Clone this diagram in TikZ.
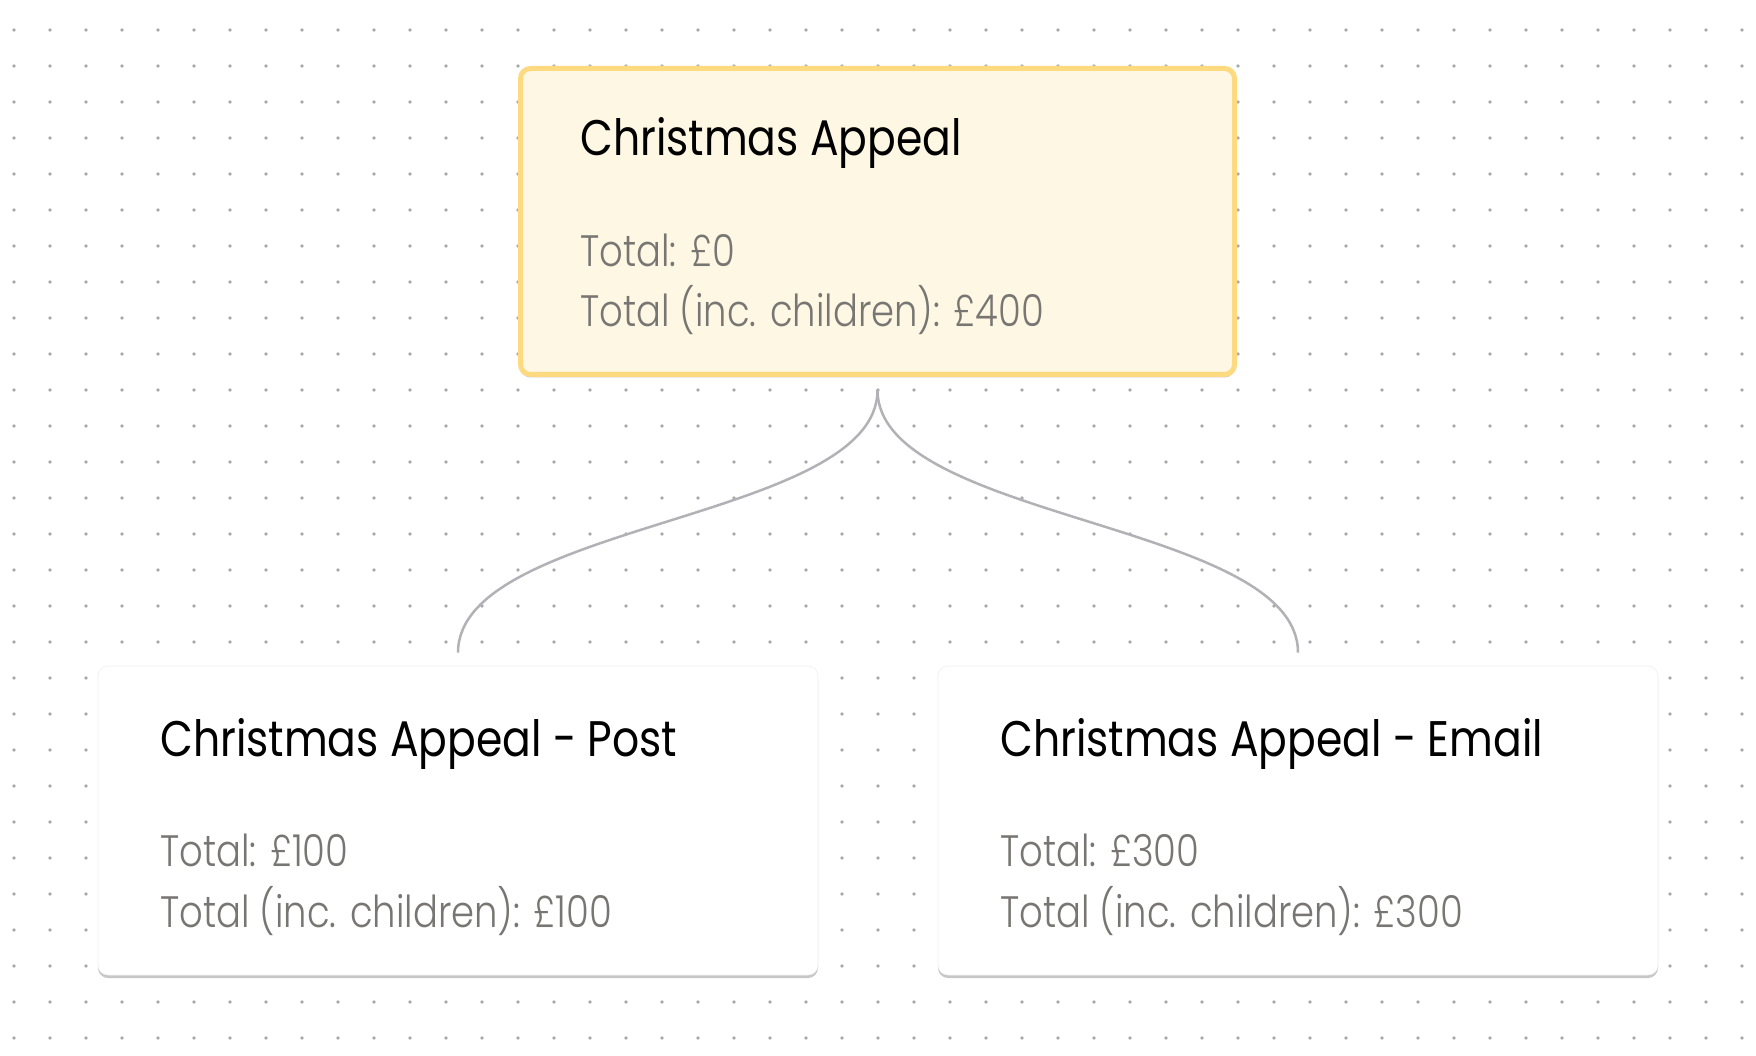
\documentclass[tikz,border=0pt]{standalone}
\usepackage{fontspec}
\usetikzlibrary{shadows}
\setmainfont{Poppins}[FakeStretch=0.85]
\IfFontExistsTF{Poppins Light}
  {\newfontfamily\lightfont{Poppins Light}[FakeStretch=0.84]}
  {\newfontfamily\lightfont{Poppins}[FakeStretch=0.84]}
\definecolor{dotgrey}{HTML}{A9A9B0}
\definecolor{linkgrey}{HTML}{B2B2B6}
\definecolor{textgrey}{HTML}{787673}
\definecolor{cardedge}{HTML}{F0F0F0}
\definecolor{appealfill}{HTML}{FEF7E3}
\definecolor{appealedge}{HTML}{FDDA80}

\begin{document}
\begin{tikzpicture}[x=1pt, y=-1pt,
    card/.style={rectangle, rounded corners=10pt, minimum width=720pt, minimum height=309pt,
      fill=white, draw=cardedge, line width=0.6pt,
      drop shadow={shadow xshift=0pt, shadow yshift=-3pt, opacity=0.4, fill=black!55}},
    parentcard/.style={card, fill=appealfill, draw=appealedge, line width=5pt,
      minimum width=714pt, minimum height=306pt},
    title/.style={anchor=base west, inner sep=0pt, font=\fontsize{50}{60}\selectfont},
    amount/.style={anchor=base west, inner sep=0pt, text=textgrey, font=\lightfont\fontsize{44}{54}\selectfont},
    link/.style={draw=linkgrey, line width=2.5pt}]
    \fill[white] (0,0) rectangle (1756,1056);
    \useasboundingbox (0,0) rectangle (1756,1056);

    \foreach \i in {0,...,48}
        \foreach \j in {0,...,28}
            \fill[dotgrey] (14+36*\i, 30+36*\j) circle (1.8pt);

    \node[parentcard] (appeal) at (877.5, 221.5) {};
    \node[card] (post) at (458, 820.5) {};
    \node[card] (email) at (1298, 820.5) {};

    \node[title] (appeal-name) at (580, 156) {Christmas Appeal};
    \node[amount] (appeal-total) at (580, 267) {Total: £0};
    \node[amount] (appeal-sum) at (580, 327) {Total (inc. children): £400};

    \node[title] (post-name) at (160, 756) {Christmas Appeal - Post};
    \node[amount] (post-total) at (160, 866) {Total: £100};
    \node[amount] (post-sum) at (160, 927) {Total (inc. children): £100};

    \node[title] (email-name) at (1000, 756) {Christmas Appeal - Email};
    \node[amount] (email-total) at (1000, 866) {Total: £300};
    \node[amount] (email-sum) at (1000, 927) {Total (inc. children): £300};

    \coordinate (appeal-out) at ([yshift=-13pt]appeal.south);
    \coordinate (post-in) at ([yshift=13pt]post.north);
    \coordinate (email-in) at ([yshift=13pt]email.north);
    \draw[link] (appeal-out) .. controls +(0,131) and +(0,-131) .. (post-in);
    \draw[link] (appeal-out) .. controls +(0,131) and +(0,-131) .. (email-in);
\end{tikzpicture}
\end{document}
